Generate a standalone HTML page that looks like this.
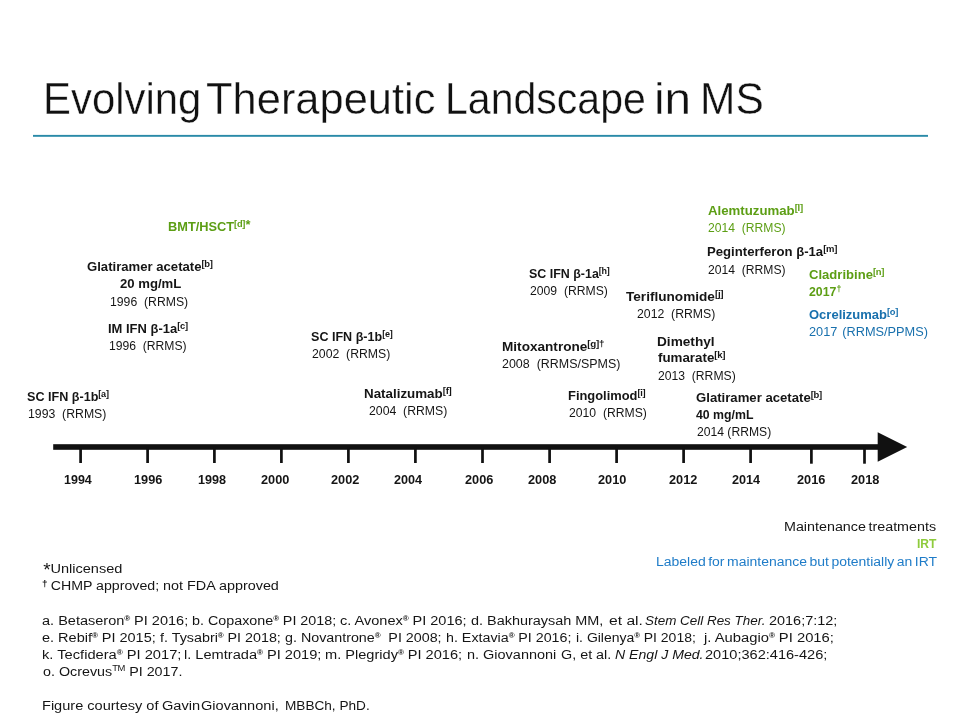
<!DOCTYPE html>
<html lang="en"><head><meta charset="utf-8"><title>Evolving Therapeutic Landscape in MS</title>
<style>
html,body{margin:0;padding:0;background:#fff;}
body{width:960px;height:720px;position:relative;overflow:hidden;will-change:transform;font-family:"Liberation Sans",sans-serif;}
.t{position:absolute;white-space:pre;line-height:0;transform-origin:0 0;margin:0;}
.t sup{letter-spacing:-.03em;font-size:.72em;line-height:0;position:relative;top:-.41em;vertical-align:baseline;font-weight:inherit}
.t sup.r{font-size:.56em;top:-.52em;font-weight:700}
.t sup.tm{font-size:.66em;top:-.5em}
.t .dg{font-size:.72em;position:relative;top:-.41em}
.t .dg2{font-size:.7em;position:relative;top:-.36em;font-weight:700;margin-right:.32em}
.t .as2{display:inline-block;line-height:0;transform:translateY(-1.7px);margin-left:.04em}
.t .as{display:inline-block;line-height:0;transform:scale(1.3);transform-origin:50% -0.45em;margin:0 .06em}
h1{margin:0;padding:0;font-size:inherit;font-weight:400}
h1 .t,.ln .t{display:block}
.s{display:inline-block;line-height:0;transform-origin:0 0;white-space:pre}
h1 .t,h1 .s{-webkit-text-stroke:.4px #fff}
#axis{position:absolute;left:0;top:0}
</style></head><body>
<svg id="axis" width="960" height="720" viewBox="0 0 960 720">
<rect x="33" y="134.9" width="895" height="1.9" fill="#2a8aa8"/>
<rect x="53.2" y="444.2" width="826" height="5.6" fill="#111"/>
<polygon points="877.7,432.3 907.2,447.1 877.7,461.8" fill="#111"/>
<rect x="79.25" y="447" width="2.7" height="16.00" fill="#111"/>
<rect x="146.25" y="447" width="2.7" height="16.00" fill="#111"/>
<rect x="213.05" y="447" width="2.7" height="16.00" fill="#111"/>
<rect x="280.05" y="447" width="2.7" height="16.00" fill="#111"/>
<rect x="347.05" y="447" width="2.7" height="16.00" fill="#111"/>
<rect x="414.05" y="447" width="2.7" height="16.00" fill="#111"/>
<rect x="481.15" y="447" width="2.7" height="16.00" fill="#111"/>
<rect x="548.25" y="447" width="2.7" height="16.00" fill="#111"/>
<rect x="615.25" y="447" width="2.7" height="16.00" fill="#111"/>
<rect x="682.25" y="447" width="2.7" height="16.00" fill="#111"/>
<rect x="749.25" y="447" width="2.7" height="16.00" fill="#111"/>
<rect x="810.05" y="447" width="2.7" height="16.70" fill="#111"/>
<rect x="863.15" y="447" width="2.7" height="16.70" fill="#111"/>
</svg>
<h1 class="t ln" id="title" style="left:0;top:98.00px;font-size:44.80px;font-weight:400;color:#111"><span class="s" id="title-1" style="margin-left:43.261px;transform:scaleX(0.9353)">Evolving</span> <span class="s" id="title-2" style="margin-left:-19.258px;transform:scaleX(0.9701)">Therapeutic</span> <span class="s" id="title-3" style="margin-left:-9.731px;transform:scaleX(0.9162)">Landscape</span> <span class="s" id="title-4" style="margin-left:-22.949px;transform:scaleX(1.0650)">in</span> <span class="s" id="title-5" style="margin-left:-1.437px;transform:scaleX(0.9484)">MS</span></h1>
<div class="t" id="bmt" style="left:168.48px;top:227.01px;font-size:12.60px;font-weight:700;color:#5c9e14;transform:scaleX(1.0158)">BMT/HSCT<sup>[d]</sup><span class="as2">*</span></div>
<div class="t" id="ga20a" style="left:86.98px;top:267.01px;font-size:12.60px;font-weight:700;color:#151515;transform:scaleX(1.0414)">Glatiramer acetate<sup>[b]</sup></div>
<div class="t" id="ga20b" style="left:120.04px;top:284.01px;font-size:12.60px;font-weight:700;color:#151515;transform:scaleX(1.0432)">20 mg/mL</div>
<div class="t" id="ga20c" style="left:110.48px;top:302.01px;font-size:12.30px;font-weight:400;color:#151515;transform:scaleX(0.9942)">1996&nbsp; (RRMS)</div>
<div class="t" id="ima" style="left:108.49px;top:329.01px;font-size:12.60px;font-weight:700;color:#151515;transform:scaleX(1.0296)">IM IFN β-1a<sup>[c]</sup></div>
<div class="t" id="imb" style="left:108.98px;top:346.01px;font-size:12.30px;font-weight:400;color:#151515;transform:scaleX(0.9879)">1996&nbsp; (RRMS)</div>
<div class="t" id="sc93a" style="left:26.99px;top:397.01px;font-size:12.60px;font-weight:700;color:#151515;transform:scaleX(1.0002)">SC IFN β-1b<sup>[a]</sup></div>
<div class="t" id="sc93b" style="left:27.50px;top:414.01px;font-size:12.30px;font-weight:400;color:#151515;transform:scaleX(0.9975)">1993&nbsp; (RRMS)</div>
<div class="t" id="sc02a" style="left:310.51px;top:337.01px;font-size:12.60px;font-weight:700;color:#151515;transform:scaleX(0.9974)">SC IFN β-1b<sup>[e]</sup></div>
<div class="t" id="sc02b" style="left:311.99px;top:354.01px;font-size:12.30px;font-weight:400;color:#151515;transform:scaleX(0.9969)">2002&nbsp; (RRMS)</div>
<div class="t" id="nata" style="left:364.45px;top:394.01px;font-size:12.60px;font-weight:700;color:#151515;transform:scaleX(1.0611)">Natalizumab<sup>[f]</sup></div>
<div class="t" id="natb" style="left:368.99px;top:411.01px;font-size:12.30px;font-weight:400;color:#151515;transform:scaleX(0.9969)">2004&nbsp; (RRMS)</div>
<div class="t" id="sc09a" style="left:528.50px;top:274.01px;font-size:12.60px;font-weight:700;color:#151515;transform:scaleX(0.9883)">SC IFN β-1a<sup>[h]</sup></div>
<div class="t" id="sc09b" style="left:529.96px;top:291.01px;font-size:12.30px;font-weight:400;color:#151515;transform:scaleX(0.9910)">2009&nbsp; (RRMS)</div>
<div class="t" id="mita" style="left:501.98px;top:347.01px;font-size:12.60px;font-weight:700;color:#151515;transform:scaleX(1.0795)">Mitoxantrone<sup>[g]</sup><span class="dg">†</span></div>
<div class="t" id="mitb" style="left:501.98px;top:364.01px;font-size:12.30px;font-weight:400;color:#151515;transform:scaleX(1.0131)">2008&nbsp; (RRMS/SPMS)</div>
<div class="t" id="fina" style="left:567.98px;top:396.01px;font-size:12.60px;font-weight:700;color:#151515;transform:scaleX(1.0238)">Fingolimod<sup>[i]</sup></div>
<div class="t" id="finb" style="left:568.98px;top:413.01px;font-size:12.30px;font-weight:400;color:#151515;transform:scaleX(0.9910)">2010&nbsp; (RRMS)</div>
<div class="t" id="tera" style="left:625.55px;top:297.01px;font-size:12.60px;font-weight:700;color:#151515;transform:scaleX(1.0801)">Teriflunomide<sup>[j]</sup></div>
<div class="t" id="terb" style="left:636.99px;top:314.01px;font-size:12.30px;font-weight:400;color:#151515;transform:scaleX(0.9969)">2012&nbsp; (RRMS)</div>
<div class="t" id="dima" style="left:657.45px;top:342.01px;font-size:12.60px;font-weight:700;color:#151515;transform:scaleX(1.0829)">Dimethyl</div>
<div class="t" id="dimb" style="left:658.47px;top:358.01px;font-size:12.60px;font-weight:700;color:#151515;transform:scaleX(1.0592)">fumarate<sup>[k]</sup></div>
<div class="t" id="dimc" style="left:658.20px;top:376.01px;font-size:12.30px;font-weight:400;color:#151515;transform:scaleX(0.9884)">2013&nbsp; (RRMS)</div>
<div class="t" id="ga40a" style="left:696.49px;top:398.01px;font-size:12.60px;font-weight:700;color:#151515;transform:scaleX(1.0439)">Glatiramer acetate<sup>[b]</sup></div>
<div class="t" id="ga40b" style="left:696.48px;top:415.01px;font-size:12.60px;font-weight:700;color:#151515;transform:scaleX(0.9762)">40 mg/mL</div>
<div class="t" id="ga40c" style="left:696.99px;top:432.01px;font-size:12.30px;font-weight:400;color:#151515;transform:scaleX(0.9869)">2014 (RRMS)</div>
<div class="t" id="alea" style="left:708.49px;top:211.01px;font-size:12.60px;font-weight:700;color:#5c9e14;transform:scaleX(1.0498)">Alemtuzumab<sup>[l]</sup></div>
<div class="t" id="aleb" style="left:708.48px;top:228.01px;font-size:12.30px;font-weight:400;color:#5c9e14;transform:scaleX(0.9877)">2014&nbsp; (RRMS)</div>
<div class="t" id="pega" style="left:707.47px;top:252.01px;font-size:12.60px;font-weight:700;color:#151515;transform:scaleX(1.0443)">Peginterferon β-1a<sup>[m]</sup></div>
<div class="t" id="pegb" style="left:708.48px;top:270.01px;font-size:12.30px;font-weight:400;color:#151515;transform:scaleX(0.9877)">2014&nbsp; (RRMS)</div>
<div class="t" id="claa" style="left:808.99px;top:275.01px;font-size:12.60px;font-weight:700;color:#5c9e14;transform:scaleX(1.0383)">Cladribine<sup>[n]</sup></div>
<div class="t" id="clab" style="left:809.00px;top:292.01px;font-size:12.60px;font-weight:700;color:#5c9e14;transform:scaleX(0.9784)">2017<span class="dg">†</span></div>
<div class="t" id="ocra" style="left:809.00px;top:315.01px;font-size:12.60px;font-weight:700;color:#1870ad;transform:scaleX(1.0321)">Ocrelizumab<sup>[o]</sup></div>
<div class="t" id="ocrb" style="left:808.96px;top:332.01px;font-size:12.30px;font-weight:400;color:#1870ad;transform:scaleX(1.0383)"><span style="word-spacing:1.2px">2017 (RRMS/PPMS)</span></div>
<div class="t" id="y1994" style="left:63.97px;top:480.01px;font-size:12.60px;font-weight:700;color:#151515;transform:scaleX(0.9922)">1994</div>
<div class="t" id="y1996" style="left:133.93px;top:480.01px;font-size:12.60px;font-weight:700;color:#151515;transform:scaleX(1.0107)">1996</div>
<div class="t" id="y1998" style="left:198.48px;top:480.01px;font-size:12.60px;font-weight:700;color:#151515;transform:scaleX(1.0014)">1998</div>
<div class="t" id="y2000" style="left:261.00px;top:480.01px;font-size:12.60px;font-weight:700;color:#151515;transform:scaleX(1.0134)">2000</div>
<div class="t" id="y2002" style="left:331.00px;top:480.01px;font-size:12.60px;font-weight:700;color:#151515;transform:scaleX(1.0134)">2002</div>
<div class="t" id="y2004" style="left:393.98px;top:480.01px;font-size:12.60px;font-weight:700;color:#151515;transform:scaleX(1.0049)">2004</div>
<div class="t" id="y2006" style="left:465.00px;top:480.01px;font-size:12.60px;font-weight:700;color:#151515;transform:scaleX(1.0134)">2006</div>
<div class="t" id="y2008" style="left:528.00px;top:480.01px;font-size:12.60px;font-weight:700;color:#151515;transform:scaleX(1.0143)">2008</div>
<div class="t" id="y2010" style="left:598.49px;top:480.01px;font-size:12.60px;font-weight:700;color:#151515;transform:scaleX(1.0128)">2010</div>
<div class="t" id="y2012" style="left:669.00px;top:480.01px;font-size:12.60px;font-weight:700;color:#151515;transform:scaleX(1.0134)">2012</div>
<div class="t" id="y2014" style="left:731.98px;top:480.01px;font-size:12.60px;font-weight:700;color:#151515;transform:scaleX(1.0049)">2014</div>
<div class="t" id="y2016" style="left:797.00px;top:480.01px;font-size:12.60px;font-weight:700;color:#151515;transform:scaleX(1.0134)">2016</div>
<div class="t" id="y2018" style="left:851.00px;top:480.01px;font-size:12.60px;font-weight:700;color:#151515;transform:scaleX(1.0143)">2018</div>
<div class="t" id="leg1" style="left:784.45px;top:527.01px;font-size:12.30px;font-weight:400;color:#151515;transform:scaleX(1.1634)"><span style="word-spacing:-1.2px">Maintenance treatments</span></div>
<div class="t" id="leg2" style="left:916.60px;top:544.01px;font-size:12.60px;font-weight:700;color:#8ecb3c;transform:scaleX(0.9595)">IRT</div>
<div class="t" id="leg3" style="left:655.69px;top:562.01px;font-size:12.30px;font-weight:400;color:#1f7cc8;transform:scaleX(1.1353)"><span style="word-spacing:-1.2px">Labeled for maintenance but potentially an IRT</span></div>
<div class="t" id="fn1" style="left:42.95px;top:568.98px;font-size:13.70px;font-weight:400;color:#151515;transform:scaleX(1.0630)"><span class="as">*</span>Unlicensed</div>
<div class="t ln" id="fn2" style="left:0;top:585.98px;font-size:13.70px;font-weight:400;color:#151515"><span class="s" id="fn2-1" style="margin-left:42.333px;transform:scaleX(1.0355)"><span class="dg2">†</span>CHMP approved;</span> <span class="s" id="fn2-2" style="margin-left:4.176px;transform:scaleX(1.0502)">not FDA approved</span></div>
<div class="t ln" id="fn3" style="left:0;top:620.98px;font-size:13.70px;font-weight:400;color:#151515"><span class="s" id="fn3-1" style="margin-left:42.469px;transform:scaleX(1.0606)">a. Betaseron<sup class="r">®</sup> PI 2016;</span> <span class="s" id="fn3-2" style="margin-left:7.830px;transform:scaleX(1.0460)">b. Copaxone<sup class="r">®</sup> PI 2018;</span> <span class="s" id="fn3-3" style="margin-left:6.359px;transform:scaleX(1.0613)">c. Avonex<sup class="r">®</sup> PI 2016;</span> <span class="s" id="fn3-4" style="margin-left:8.369px;transform:scaleX(1.0545)">d. Bakhuraysah MM,</span> <span class="s" id="fn3-5" style="margin-left:8.111px;transform:scaleX(1.1429)">et al.</span> <span class="s" id="fn3-6" style="margin-left:2.592px;transform:scaleX(0.9813)"><i>Stem Cell Res Ther.</i></span> <span class="s" id="fn3-7" style="margin-left:-2.341px;transform:scaleX(1.0558)">2016;7:12;</span></div>
<div class="t ln" id="fn4" style="left:0;top:637.98px;font-size:13.70px;font-weight:400;color:#151515"><span class="s" id="fn4-1" style="margin-left:42.483px;transform:scaleX(1.0591)">e. Rebif<sup class="r">®</sup> PI 2015;</span> <span class="s" id="fn4-2" style="margin-left:6.826px;transform:scaleX(1.0461)">f. Tysabri<sup class="r">®</sup> PI 2018;</span> <span class="s" id="fn4-3" style="margin-left:5.438px;transform:scaleX(1.0438)">g. Novantrone<sup class="r">®</sup>&nbsp; PI 2008;</span> <span class="s" id="fn4-4" style="margin-left:6.923px;transform:scaleX(1.0424)">h. Extavia<sup class="r">®</sup> PI 2016;</span> <span class="s" id="fn4-5" style="margin-left:5.890px;transform:scaleX(1.0217)">i. Gilenya<sup class="r">®</sup> PI 2018;</span> <span class="s" id="fn4-6" style="margin-left:6.953px;transform:scaleX(1.0795)">j. Aubagio<sup class="r">®</sup> PI 2016;</span></div>
<div class="t ln" id="fn5" style="left:0;top:654.98px;font-size:13.70px;font-weight:400;color:#151515"><span class="s" id="fn5-1" style="margin-left:41.939px;transform:scaleX(1.0724)">k. Tecfidera<sup class="r">®</sup> PI 2017;</span> <span class="s" id="fn5-2" style="margin-left:8.234px;transform:scaleX(1.0672)">l. Lemtrada<sup class="r">®</sup> PI 2019;</span> <span class="s" id="fn5-3" style="margin-left:8.740px;transform:scaleX(1.0652)">m. Plegridy<sup class="r">®</sup> PI 2016;</span> <span class="s" id="fn5-4" style="margin-left:9.023px;transform:scaleX(1.0576)">n. Giovannoni</span> <span class="s" id="fn5-5" style="margin-left:6.000px;transform:scaleX(1.0489)">G, et al.</span> <span class="s" id="fn5-6" style="margin-left:1.784px;transform:scaleX(1.0299)"><i>N Engl J Med.</i></span> <span class="s" id="fn5-7" style="margin-left:1.197px;transform:scaleX(1.0642)">2010;362:416-426;</span></div>
<div class="t" id="fn6" style="left:42.99px;top:671.98px;font-size:13.70px;font-weight:400;color:#151515;transform:scaleX(1.0446)">o. Ocrevus<sup class="tm">TM</sup> PI 2017.</div>
<div class="t ln" id="fn7" style="left:0;top:705.98px;font-size:13.70px;font-weight:400;color:#151515"><span class="s" id="fn7-1" style="margin-left:41.988px;transform:scaleX(1.0631)">Figure courtesy of</span> <span class="s" id="fn7-2" style="margin-left:7.123px;transform:scaleX(1.0662)">Gavin</span> <span class="s" id="fn7-3" style="margin-left:-0.582px;transform:scaleX(1.0634)">Giovannoni,</span> <span class="s" id="fn7-4" style="margin-left:6.442px;transform:scaleX(0.9940)">MBBCh, PhD.</span></div>
</body></html>
